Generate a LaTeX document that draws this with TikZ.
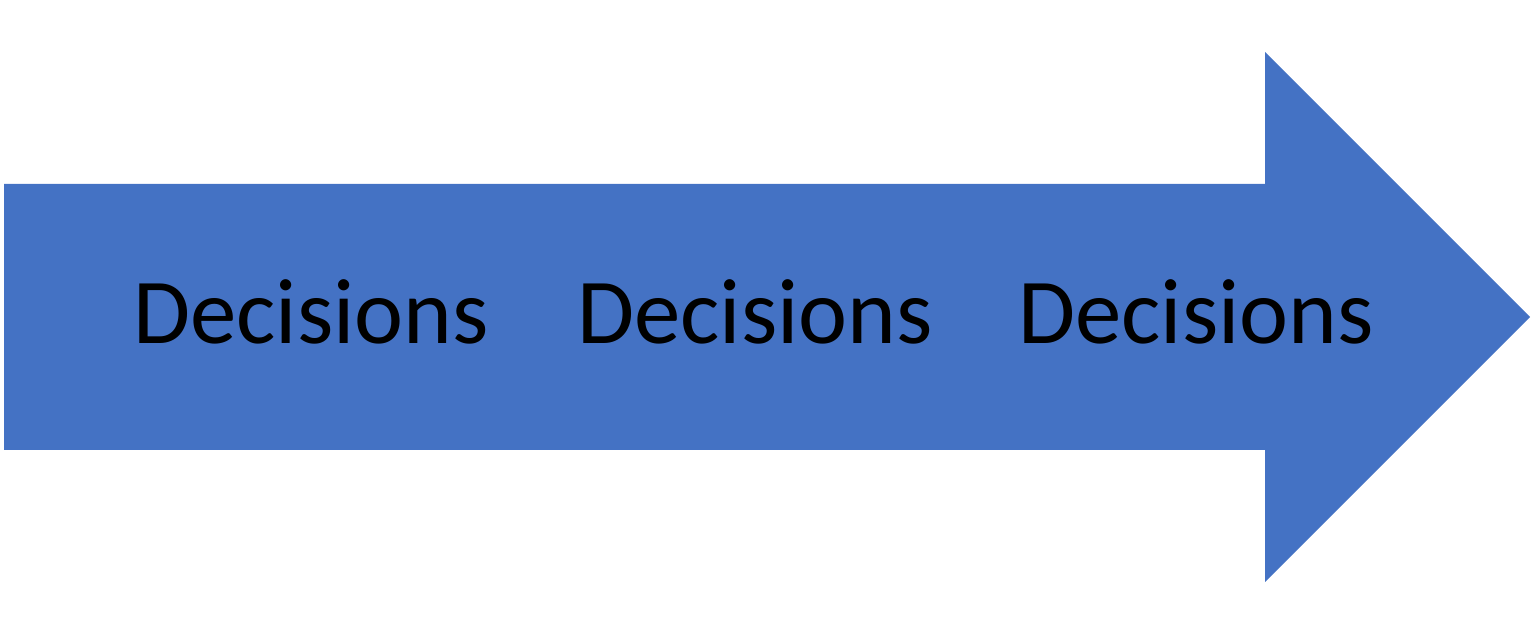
\documentclass[tikz,border=0pt]{standalone}
\usepackage{fontspec}
\setmainfont{Carlito}
\usetikzlibrary{positioning,calc}
\definecolor{officeblue}{HTML}{4472C4}

\begin{document}
\begin{tikzpicture}[x=0.01cm,y=-0.01cm]
    %Definitions - sizes in pixels of the reference%
    %===========================================================
    \def \BodyTop {184}; %Top of arrow shaft
    \def \BodyBot {450}; %Bottom of arrow shaft
    \def \HeadX {1265}; %Start of arrow head
    \tikzset{label text/.style={font=\fontsize{26.4}{30}\selectfont, text=black, inner sep=0pt, anchor=base}}
    \useasboundingbox (0,0) rectangle (1536,634);
    %Locations%
    %===========================================================
    \coordinate (shaft_nw) at (4,\BodyTop);
    \coordinate (shaft_sw) at (4,\BodyBot);
    \coordinate (head_top) at (\HeadX,52); %Upper barb
    \coordinate (head_bot) at (\HeadX,582); %Lower barb
    \coordinate (tip) at (1530,317); %Tip of the arrow
    %Arrow shape%
    \fill[officeblue] (shaft_nw) -- (\HeadX,\BodyTop) -- (head_top) -- (tip) -- (head_bot) -- (\HeadX,\BodyBot) -- (shaft_sw) -- cycle;
    %Texts%
    \node[label text] (decision_a) at (311,344) {Decisions};
    \node[label text] (decision_b) at (755,344) {Decisions};
    \node[label text] (decision_c) at (1196,344) {Decisions};
\end{tikzpicture}
\end{document}
